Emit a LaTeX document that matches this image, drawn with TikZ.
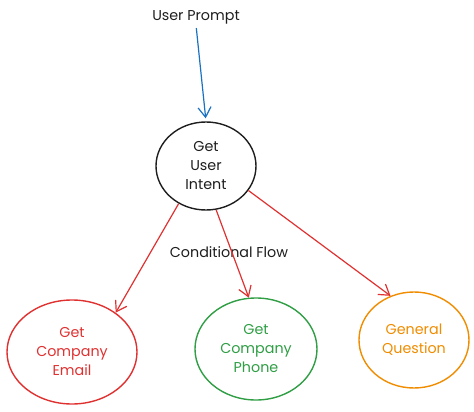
\documentclass[tikz,border=0pt]{standalone}
\usepackage{fontspec}
\setmainfont{Poppins}
\usetikzlibrary{shapes.geometric,arrows.meta}
\definecolor{exblack}{HTML}{1E1E1E}
\definecolor{exred}{HTML}{E03131}
\definecolor{exgreen}{HTML}{2F9E44}
\definecolor{exorange}{HTML}{F08C00}
\definecolor{exblue}{HTML}{1971C2}
\tikzset{
  bubble/.style={ellipse, draw, line width=1.4pt, inner sep=0pt, align=center,
    font=\fontsize{14.3}{19}\selectfont},
  label text/.style={font=\fontsize{14.3}{16}\selectfont, text=exblack, inner sep=1pt},
  flow/.style={line width=1.2pt, -{Straight Barb[length=10pt,width=13pt,line width=1.2pt]}},
}
\begin{document}
\begin{tikzpicture}[x=1pt,y=-1pt]
\useasboundingbox (0,0) rectangle (474,412);
\node[label text] (prompt) at (196,17) {User Prompt};
\node[bubble, draw=exblack, text=exblack, minimum width=100pt, minimum height=88pt] (intent) at (206,166) {Get\\User\\Intent};
\node[bubble, draw=exred, text=exred, minimum width=130pt, minimum height=104pt] (email) at (72,352) {Get\\Company\\Email};
\node[bubble, draw=exgreen, text=exgreen, minimum width=122pt, minimum height=102pt] (phone) at (256,349) {Get\\Company\\Phone};
\node[bubble, draw=exorange, text=exorange, minimum width=110pt, minimum height=96pt] (question) at (414,340) {General\\Question};
\node[label text] (cond) at (229,252) {Conditional Flow};
\draw[flow, exblue, shorten <=3pt, shorten >=3pt] (prompt.south) -- (intent.north);
\draw[flow, exred] (intent.234) -- (email.42);
\draw[flow, exred] (intent.283) -- (phone.98);
\draw[flow, exred] (intent.330) -- (question.118);
\end{tikzpicture}
\end{document}
